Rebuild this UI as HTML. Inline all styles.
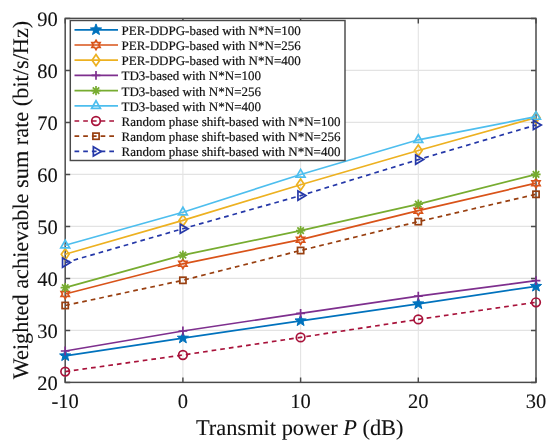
<!DOCTYPE html><html><head><meta charset="utf-8"><style>html,body{margin:0;padding:0;background:#fff;width:550px;height:446px;overflow:hidden}svg{display:block}text{font-family:"Liberation Serif","Times New Roman",serif;fill:#111;stroke:#111;stroke-width:0.1px;text-rendering:geometricPrecision}.lg{stroke-width:0.2px}</style></head><body>
<svg width="550" height="446" viewBox="0 0 550 446">
<rect width="550" height="446" fill="#fff"/>
<path d="M65.20,18.4V382.4M182.90,18.4V382.4M300.60,18.4V382.4M418.30,18.4V382.4M536.00,18.4V382.4M65.2,382.40H536.0M65.2,330.40H536.0M65.2,278.40H536.0M65.2,226.40H536.0M65.2,174.40H536.0M65.2,122.40H536.0M65.2,70.40H536.0M65.2,18.40H536.0" stroke="#e3e3e3" stroke-width="1.1" fill="none"/>
<rect x="65.2" y="18.4" width="470.8" height="364.0" fill="none" stroke="#4a4a4a" stroke-width="1.45"/>
<path d="M65.20,382.4v-5M65.20,18.4v5M182.90,382.4v-5M182.90,18.4v5M300.60,382.4v-5M300.60,18.4v5M418.30,382.4v-5M418.30,18.4v5M536.00,382.4v-5M536.00,18.4v5M65.2,382.40h5M536.0,382.40h-5M65.2,330.40h5M536.0,330.40h-5M65.2,278.40h5M536.0,278.40h-5M65.2,226.40h5M536.0,226.40h-5M65.2,174.40h5M536.0,174.40h-5M65.2,122.40h5M536.0,122.40h-5M65.2,70.40h5M536.0,70.40h-5M65.2,18.40h5M536.0,18.40h-5" stroke="#4a4a4a" stroke-width="1.45" fill="none"/>
<polyline points="65.20,355.8 182.90,338.1 300.60,320.8 418.30,303.8 536.00,286.3" fill="none" stroke="#0072BD" stroke-width="1.7"/>
<polygon points="65.20,349.90 66.67,353.78 70.81,353.98 67.58,356.57 68.67,360.57 65.20,358.30 61.73,360.57 62.82,356.57 59.59,353.98 63.73,353.78" fill="#0072BD" stroke="#0072BD" stroke-width="1" stroke-linejoin="miter"/>
<polygon points="182.90,332.20 184.37,336.08 188.51,336.28 185.28,338.87 186.37,342.87 182.90,340.60 179.43,342.87 180.52,338.87 177.29,336.28 181.43,336.08" fill="#0072BD" stroke="#0072BD" stroke-width="1" stroke-linejoin="miter"/>
<polygon points="300.60,314.90 302.07,318.78 306.21,318.98 302.98,321.57 304.07,325.57 300.60,323.30 297.13,325.57 298.22,321.57 294.99,318.98 299.13,318.78" fill="#0072BD" stroke="#0072BD" stroke-width="1" stroke-linejoin="miter"/>
<polygon points="418.30,297.90 419.77,301.78 423.91,301.98 420.68,304.57 421.77,308.57 418.30,306.30 414.83,308.57 415.92,304.57 412.69,301.98 416.83,301.78" fill="#0072BD" stroke="#0072BD" stroke-width="1" stroke-linejoin="miter"/>
<polygon points="536.00,280.40 537.47,284.28 541.61,284.48 538.38,287.07 539.47,291.07 536.00,288.80 532.53,291.07 533.62,287.07 530.39,284.48 534.53,284.28" fill="#0072BD" stroke="#0072BD" stroke-width="1" stroke-linejoin="miter"/>
<polyline points="65.20,294.0 182.90,263.8 300.60,239.7 418.30,210.7 536.00,183.2" fill="none" stroke="#D95319" stroke-width="1.7"/>
<polygon points="65.20,289.30 66.58,291.62 69.27,291.65 67.95,294.00 69.27,296.35 66.58,296.38 65.20,298.70 63.83,296.38 61.13,296.35 62.45,294.00 61.13,291.65 63.83,291.62" fill="none" stroke="#D95319" stroke-width="1.7"/>
<polygon points="182.90,259.10 184.28,261.42 186.97,261.45 185.65,263.80 186.97,266.15 184.28,266.18 182.90,268.50 181.53,266.18 178.83,266.15 180.15,263.80 178.83,261.45 181.53,261.42" fill="none" stroke="#D95319" stroke-width="1.7"/>
<polygon points="300.60,235.00 301.98,237.32 304.67,237.35 303.35,239.70 304.67,242.05 301.98,242.08 300.60,244.40 299.23,242.08 296.53,242.05 297.85,239.70 296.53,237.35 299.23,237.32" fill="none" stroke="#D95319" stroke-width="1.7"/>
<polygon points="418.30,206.00 419.68,208.32 422.37,208.35 421.05,210.70 422.37,213.05 419.68,213.08 418.30,215.40 416.93,213.08 414.23,213.05 415.55,210.70 414.23,208.35 416.93,208.32" fill="none" stroke="#D95319" stroke-width="1.7"/>
<polygon points="536.00,178.50 537.38,180.82 540.07,180.85 538.75,183.20 540.07,185.55 537.38,185.58 536.00,187.90 534.62,185.58 531.93,185.55 533.25,183.20 531.93,180.85 534.62,180.82" fill="none" stroke="#D95319" stroke-width="1.7"/>
<polyline points="65.20,254.3 182.90,220.4 300.60,184.7 418.30,150.5 536.00,117.6" fill="none" stroke="#EDB120" stroke-width="1.7"/>
<polygon points="65.2,248.70000000000002 69.10000000000001,254.3 65.2,259.90000000000003 61.300000000000004,254.3" fill="none" stroke="#EDB120" stroke-width="1.7"/>
<polygon points="182.9,214.8 186.8,220.4 182.9,226.0 179.0,220.4" fill="none" stroke="#EDB120" stroke-width="1.7"/>
<polygon points="300.6,179.1 304.5,184.7 300.6,190.29999999999998 296.70000000000005,184.7" fill="none" stroke="#EDB120" stroke-width="1.7"/>
<polygon points="418.3,144.9 422.2,150.5 418.3,156.1 414.40000000000003,150.5" fill="none" stroke="#EDB120" stroke-width="1.7"/>
<polygon points="536.0,112.0 539.9,117.6 536.0,123.19999999999999 532.1,117.6" fill="none" stroke="#EDB120" stroke-width="1.7"/>
<polyline points="65.20,351.0 182.90,331.0 300.60,313.3 418.30,296.2 536.00,280.7" fill="none" stroke="#7E2F8E" stroke-width="1.7"/>
<path d="M60.800000000000004,351.0H69.60000000000001M65.2,346.6V355.4" stroke="#7E2F8E" stroke-width="1.7"/>
<path d="M178.5,331.0H187.3M182.9,326.6V335.4" stroke="#7E2F8E" stroke-width="1.7"/>
<path d="M296.20000000000005,313.3H305.0M300.6,308.90000000000003V317.7" stroke="#7E2F8E" stroke-width="1.7"/>
<path d="M413.90000000000003,296.2H422.7M418.3,291.8V300.59999999999997" stroke="#7E2F8E" stroke-width="1.7"/>
<path d="M531.6,280.7H540.4M536.0,276.3V285.09999999999997" stroke="#7E2F8E" stroke-width="1.7"/>
<polyline points="65.20,287.6 182.90,255.1 300.60,230.6 418.30,204.1 536.00,174.4" fill="none" stroke="#77AC30" stroke-width="1.7"/>
<path d="M60.60,287.60L69.80,287.60M61.95,284.35L68.45,290.85M65.20,283.00L65.20,292.20M68.45,284.35L61.95,290.85" stroke="#77AC30" stroke-width="1.7"/>
<path d="M178.30,255.10L187.50,255.10M179.65,251.85L186.15,258.35M182.90,250.50L182.90,259.70M186.15,251.85L179.65,258.35" stroke="#77AC30" stroke-width="1.7"/>
<path d="M296.00,230.60L305.20,230.60M297.35,227.35L303.85,233.85M300.60,226.00L300.60,235.20M303.85,227.35L297.35,233.85" stroke="#77AC30" stroke-width="1.7"/>
<path d="M413.70,204.10L422.90,204.10M415.05,200.85L421.55,207.35M418.30,199.50L418.30,208.70M421.55,200.85L415.05,207.35" stroke="#77AC30" stroke-width="1.7"/>
<path d="M531.40,174.40L540.60,174.40M532.75,171.15L539.25,177.65M536.00,169.80L536.00,179.00M539.25,171.15L532.75,177.65" stroke="#77AC30" stroke-width="1.7"/>
<polyline points="65.20,245.3 182.90,212.3 300.60,174.5 418.30,139.8 536.00,116.7" fill="none" stroke="#4DBEEE" stroke-width="1.7"/>
<polygon points="65.2,240.20000000000002 69.62,247.85 60.78,247.85" fill="none" stroke="#4DBEEE" stroke-width="1.7"/>
<polygon points="182.9,207.20000000000002 187.32,214.85 178.48,214.85" fill="none" stroke="#4DBEEE" stroke-width="1.7"/>
<polygon points="300.6,169.4 305.02,177.05 296.18,177.05" fill="none" stroke="#4DBEEE" stroke-width="1.7"/>
<polygon points="418.3,134.70000000000002 422.72,142.35 413.88,142.35" fill="none" stroke="#4DBEEE" stroke-width="1.7"/>
<polygon points="536.0,111.60000000000001 540.42,119.25 531.58,119.25" fill="none" stroke="#4DBEEE" stroke-width="1.7"/>
<polyline points="65.20,371.6 182.90,355.0 300.60,337.4 418.30,319.4 536.00,302.3" fill="none" stroke="#A8123A" stroke-width="1.7" stroke-dasharray="4.7,4.0"/>
<circle cx="65.2" cy="371.6" r="4.3" fill="none" stroke="#A8123A" stroke-width="1.7"/>
<circle cx="182.9" cy="355.0" r="4.3" fill="none" stroke="#A8123A" stroke-width="1.7"/>
<circle cx="300.6" cy="337.4" r="4.3" fill="none" stroke="#A8123A" stroke-width="1.7"/>
<circle cx="418.3" cy="319.4" r="4.3" fill="none" stroke="#A8123A" stroke-width="1.7"/>
<circle cx="536.0" cy="302.3" r="4.3" fill="none" stroke="#A8123A" stroke-width="1.7"/>
<polyline points="65.20,305.5 182.90,280.3 300.60,250.5 418.30,221.6 536.00,194.3" fill="none" stroke="#983F10" stroke-width="1.7" stroke-dasharray="4.7,4.0"/>
<rect x="62.1" y="302.4" width="6.2" height="6.2" fill="none" stroke="#983F10" stroke-width="1.7"/>
<rect x="179.8" y="277.2" width="6.2" height="6.2" fill="none" stroke="#983F10" stroke-width="1.7"/>
<rect x="297.5" y="247.4" width="6.2" height="6.2" fill="none" stroke="#983F10" stroke-width="1.7"/>
<rect x="415.2" y="218.5" width="6.2" height="6.2" fill="none" stroke="#983F10" stroke-width="1.7"/>
<rect x="532.9" y="191.20000000000002" width="6.2" height="6.2" fill="none" stroke="#983F10" stroke-width="1.7"/>
<polyline points="65.20,262.6 182.90,228.7 300.60,195.6 418.30,159.6 536.00,125.0" fill="none" stroke="#2538A8" stroke-width="1.7" stroke-dasharray="4.7,4.0"/>
<polygon points="70.5,262.6 62.55,258.01 62.55,267.19" fill="none" stroke="#2538A8" stroke-width="1.7"/>
<polygon points="188.20000000000002,228.7 180.25,224.11 180.25,233.29" fill="none" stroke="#2538A8" stroke-width="1.7"/>
<polygon points="305.90000000000003,195.6 297.95,191.01 297.95,200.19" fill="none" stroke="#2538A8" stroke-width="1.7"/>
<polygon points="423.6,159.6 415.65,155.01 415.65,164.19" fill="none" stroke="#2538A8" stroke-width="1.7"/>
<polygon points="541.3,125.0 533.35,120.41 533.35,129.59" fill="none" stroke="#2538A8" stroke-width="1.7"/>
<text x="65.20" y="408.3" font-size="20.5" text-anchor="middle">-10</text>
<text x="182.90" y="408.3" font-size="20.5" text-anchor="middle">0</text>
<text x="300.60" y="408.3" font-size="20.5" text-anchor="middle">10</text>
<text x="418.30" y="408.3" font-size="20.5" text-anchor="middle">20</text>
<text x="536.00" y="408.3" font-size="20.5" text-anchor="middle">30</text>
<text x="57.8" y="389.85" font-size="20.5" text-anchor="end">20</text>
<text x="57.8" y="337.85" font-size="20.5" text-anchor="end">30</text>
<text x="57.8" y="285.85" font-size="20.5" text-anchor="end">40</text>
<text x="57.8" y="233.85" font-size="20.5" text-anchor="end">50</text>
<text x="57.8" y="181.85" font-size="20.5" text-anchor="end">60</text>
<text x="57.8" y="129.85" font-size="20.5" text-anchor="end">70</text>
<text x="57.8" y="77.85" font-size="20.5" text-anchor="end">80</text>
<text x="57.8" y="25.85" font-size="20.5" text-anchor="end">90</text>
<text x="299.75" y="435" font-size="22.4" text-anchor="middle">Transmit power <tspan font-style="italic">P</tspan> (dB)</text>
<text transform="translate(28.0,200.0) rotate(-90)" font-size="22.3" text-anchor="middle">Weighted achievable sum rate (bit/s/Hz)</text>
<rect x="70.3" y="20.5" width="274.7" height="140" fill="#fff" stroke="#4a4a4a" stroke-width="1.45"/>
<line x1="74.5" y1="29.80" x2="118" y2="29.80" stroke="#0072BD" stroke-width="1.7"/>
<polygon points="96.00,23.90 97.47,27.78 101.61,27.98 98.38,30.57 99.47,34.57 96.00,32.30 92.53,34.57 93.62,30.57 90.39,27.98 94.53,27.78" fill="#0072BD" stroke="#0072BD" stroke-width="1" stroke-linejoin="miter"/>
<text class="lg" x="121.5" y="34.80" font-size="13">PER-DDPG-based with N*N=100</text>
<line x1="74.5" y1="45.00" x2="118" y2="45.00" stroke="#D95319" stroke-width="1.7"/>
<polygon points="96.00,40.30 97.38,42.62 100.07,42.65 98.75,45.00 100.07,47.35 97.38,47.38 96.00,49.70 94.62,47.38 91.93,47.35 93.25,45.00 91.93,42.65 94.62,42.62" fill="none" stroke="#D95319" stroke-width="1.7"/>
<text class="lg" x="121.5" y="50.00" font-size="13">PER-DDPG-based with N*N=256</text>
<line x1="74.5" y1="60.20" x2="118" y2="60.20" stroke="#EDB120" stroke-width="1.7"/>
<polygon points="96,54.6 99.9,60.2 96,65.8 92.1,60.2" fill="none" stroke="#EDB120" stroke-width="1.7"/>
<text class="lg" x="121.5" y="65.20" font-size="13">PER-DDPG-based with N*N=400</text>
<line x1="74.5" y1="75.40" x2="118" y2="75.40" stroke="#7E2F8E" stroke-width="1.7"/>
<path d="M91.6,75.39999999999999H100.4M96,70.99999999999999V79.8" stroke="#7E2F8E" stroke-width="1.7"/>
<text class="lg" x="121.5" y="80.40" font-size="13">TD3-based with N*N=100</text>
<line x1="74.5" y1="90.60" x2="118" y2="90.60" stroke="#77AC30" stroke-width="1.7"/>
<path d="M91.40,90.60L100.60,90.60M92.75,87.35L99.25,93.85M96.00,86.00L96.00,95.20M99.25,87.35L92.75,93.85" stroke="#77AC30" stroke-width="1.7"/>
<text class="lg" x="121.5" y="95.60" font-size="13">TD3-based with N*N=256</text>
<line x1="74.5" y1="105.80" x2="118" y2="105.80" stroke="#4DBEEE" stroke-width="1.7"/>
<polygon points="96,100.7 100.42,108.35 91.58,108.35" fill="none" stroke="#4DBEEE" stroke-width="1.7"/>
<text class="lg" x="121.5" y="110.80" font-size="13">TD3-based with N*N=400</text>
<line x1="74.5" y1="121.00" x2="118" y2="121.00" stroke="#A8123A" stroke-width="1.7" stroke-dasharray="4.7,4.0"/>
<circle cx="96" cy="120.99999999999999" r="4.3" fill="none" stroke="#A8123A" stroke-width="1.7"/>
<text class="lg" x="121.5" y="126.00" font-size="13">Random phase shift-based with N*N=100</text>
<line x1="74.5" y1="136.20" x2="118" y2="136.20" stroke="#983F10" stroke-width="1.7" stroke-dasharray="4.7,4.0"/>
<rect x="92.9" y="133.1" width="6.2" height="6.2" fill="none" stroke="#983F10" stroke-width="1.7"/>
<text class="lg" x="121.5" y="141.20" font-size="13">Random phase shift-based with N*N=256</text>
<line x1="74.5" y1="151.40" x2="118" y2="151.40" stroke="#2538A8" stroke-width="1.7" stroke-dasharray="4.7,4.0"/>
<polygon points="101.3,151.4 93.35,146.81 93.35,155.99" fill="none" stroke="#2538A8" stroke-width="1.7"/>
<text class="lg" x="121.5" y="156.40" font-size="13">Random phase shift-based with N*N=400</text>
</svg></body></html>
